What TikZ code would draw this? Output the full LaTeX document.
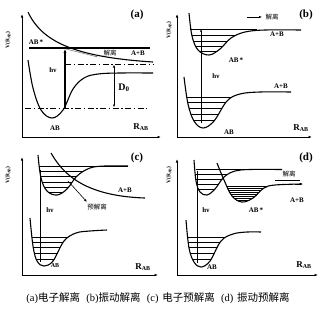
\documentclass[tikz,border=0pt]{standalone}
\usepackage{fontspec}
\setmainfont{Liberation Serif}
\newfontfamily\cjk{Noto Sans CJK SC}
\usetikzlibrary{arrows.meta}

\begin{document}
\begin{tikzpicture}[x=1pt,y=-1pt,
    axis/.style={line width=0.8pt,-{Latex[length=3.5pt,width=2.6pt]}},
    curve/.style={line width=1.1pt},
    level/.style={line width=0.5pt},
    lbl/.style={font=\bfseries\fontsize{7}{8}\selectfont,inner sep=0pt},
    tag/.style={font=\bfseries\fontsize{11}{12}\selectfont,inner sep=0pt},
    vlab/.style={font=\bfseries\fontsize{5.5}{6}\selectfont,rotate=90,inner sep=0pt},
    rlab/.style={font=\bfseries\fontsize{9}{10}\selectfont,inner sep=0pt},
    zh/.style={font=\cjk\fontsize{6.5}{7}\selectfont,inner sep=0pt},
    dashdot/.style={line width=1pt,dash pattern=on 6pt off 2.5pt on 1.5pt off 2.5pt}]

\useasboundingbox (0,0) rectangle (328,314);

% ---------------- (a) electronic dissociation
\draw[axis] (22,137) -- (22,14);
\draw[axis] (22,137) -- (161,137);
\node[vlab] (va) at (8,40) {V(R$_{\mathbf{AB}}$)};
\node[rlab] (ra) at (141,127) {R$_{\mathbf{AB}}$};
\node[tag] (ta) at (137,15) {(a)};

\draw[curve] (28,12) .. controls (42,42) and (75,57) .. (153,62);
\draw[curve] plot[smooth,tension=0.6] coordinates
    {(28,60) (33,88) (41,110) (52,118) (63,110) (73,89) (84,78) (98,74) (120,73) (153,73)};
\draw[line width=1.6pt] (29,48) -- (150,48);
\draw[dashdot] (65,64) -- (153,64);
\draw[dashdot] (25,108) -- (147,108);
\draw[line width=1.3pt,-{Latex[length=4pt,width=3pt]}] (65,108) -- (65,48.8);
\draw[gray,line width=0.6pt,-{Latex[length=2.5pt]}] (66,49) -- (98,57);
\draw[line width=0.7pt,{Latex[length=3pt]}-{Latex[length=3pt]}] (114,64.5) -- (114,107.5);

\node[lbl] (abxa) at (36,42) {AB\,*};
\node[zh] (dsa) at (110,53) {解离};
\node[lbl] (aba) at (138,53) {A+B};
\node[lbl] (hva) at (53,70) {hν};
\node[font=\bfseries\fontsize{10}{11}\selectfont,inner sep=0pt] (da) at (124,88) {D$_{\mathbf{0}}$};
\node[lbl] (aa) at (55,128) {AB};

% ---------------- (b) vibrational dissociation
\draw[axis] (177,137) -- (177,14);
\draw[axis] (177,137) -- (312,137);
\node[vlab] (vb) at (169,30) {V(R$_{\mathbf{AB}}$)};
\node[rlab] (rb) at (301,128) {R$_{\mathbf{AB}}$};
\node[tag] (tb) at (306,15) {(b)};

\path[save path=\wellbu] plot[smooth,tension=0.6] coordinates
    {(189,13) (192,36) (198,50) (209,55) (220,49) (231,38) (245,32) (265,30) (301,30)};
\draw[curve,use path=\wellbu];
\begin{scope}
  \clip[use path=\wellbu];
  \foreach \y in {35,41,46,51}
    \draw[level] (180,\y) -- (300,\y);
\end{scope}
\draw[level] (190,29.5) -- (257,29.5);

\path[save path=\wellbl] plot[smooth,tension=0.6] coordinates
    {(184,77) (188,104) (194,121) (203,128) (214,121) (227,101) (240,94) (260,92) (291,92)};
\draw[curve,use path=\wellbl];
\begin{scope}
  \clip[use path=\wellbl];
  \foreach \y in {97,102,108,114,120}
    \draw[level] (180,\y) -- (300,\y);
\end{scope}
\draw[line width=0.6pt,-{Latex[length=2.5pt,width=2pt]}] (201,123) -- (201,29);
\draw[line width=0.6pt,-{Latex[length=3pt,width=2.4pt]}] (247,17) -- (262,17);

\node[zh] (dsb) at (272,17) {解离};
\node[lbl] (abb1) at (277,34) {A+B};
\node[lbl] (abxb) at (236,60) {AB\,*};
\node[lbl] (hvb) at (216,76) {hν};
\node[lbl] (abb2) at (281,86) {A+B};
\node[lbl] (ab) at (229,132) {AB};

% ---------------- (c) electronic predissociation
\draw[axis] (22,275) -- (22,157);
\draw[axis] (22,275) -- (158,275);
\node[vlab] (vc) at (8,175) {V(R$_{\mathbf{AB}}$)};
\node[rlab] (rc) at (143,267) {R$_{\mathbf{AB}}$};
\node[tag] (tc) at (137,158) {(c)};

\path[save path=\wellcu] plot[smooth,tension=0.6] coordinates
    {(38,155) (41,178) (47,191) (57,195) (67,189) (77,176) (90,168) (105,166) (128,166)};
\draw[curve,use path=\wellcu];
\begin{scope}
  \clip[use path=\wellcu];
  \foreach \y in {171,176,182,187,192}
    \draw[level] (30,\y) -- (130,\y);
\end{scope}
\draw[level] (39,166) -- (128,166);
\draw[curve] (51,153) .. controls (62,172) and (82,196) .. (145,198);
\draw[line width=0.6pt,-{Latex[length=3pt,width=2.4pt]}] (68,181) -- (87,202);

\path[save path=\wellcl] plot[smooth,tension=0.6] coordinates
    {(30,218) (33,246) (37,261) (44,266) (53,261) (64,241) (76,233) (90,231) (107,230)};
\draw[curve,use path=\wellcl];
\begin{scope}
  \clip[use path=\wellcl];
  \foreach \y in {237,242,247,253,259}
    \draw[level] (25,\y) -- (110,\y);
\end{scope}
\draw[line width=0.6pt] (40,262) -- (40,170);

\node[zh] (dsc) at (97,207) {预解离};
\node[lbl] (abc) at (125,190) {A+B};
\node[lbl] (hvc) at (50,210) {hν};
\node[font=\bfseries\fontsize{6}{7}\selectfont,inner sep=0pt] (ac) at (55,266) {AB};

% ---------------- (d) vibrational predissociation
\draw[axis] (177,275) -- (177,159);
\draw[axis] (177,275) -- (318,275);
\node[vlab] (vd) at (169,175) {V(R$_{\mathbf{AB}}$)};
\node[rlab] (rd) at (304,265) {R$_{\mathbf{AB}}$};
\node[tag] (td) at (306,158) {(d)};

\path[save path=\welldu] plot[smooth,tension=0.6] coordinates
    {(194,160) (196,181) (200,192) (207,195) (215,189) (224,177) (235,171) (250,169.5) (282,169.5)};
\draw[curve,use path=\welldu];
\begin{scope}
  \clip[use path=\welldu];
  \foreach \y in {174,179,184,189}
    \draw[level] (185,\y) -- (260,\y);
\end{scope}
\draw[level] (196,169) -- (282,169);

\path[save path=\welldx] plot[smooth,tension=0.6] coordinates
    {(217,163) (224,180) (232,196) (242,202) (253,198) (264,188) (275,185) (301,184)};
\draw[curve,use path=\welldx];
\begin{scope}
  \clip[use path=\welldx];
  \foreach \y in {186,188,...,203}
    \draw[level] (215,\y) -- (275,\y);
\end{scope}
\draw[line width=0.7pt,-{Latex[length=3pt,width=2.6pt]}] (295,184) -- (303,184);
\draw[level] (275,180.5) -- (300,180.5);

\path[save path=\welldl] plot[smooth,tension=0.6] coordinates
    {(186,220) (189,248) (194,262) (201,267) (210,261) (221,241) (233,234) (247,232) (261,232)};
\draw[curve,use path=\welldl];
\begin{scope}
  \clip[use path=\welldl];
  \foreach \y in {237,242,247,253,259}
    \draw[level] (180,\y) -- (265,\y);
\end{scope}
\draw[line width=0.6pt] (197,263) -- (197,171);

\node[zh] (dsd) at (289,174) {解离};
\node[lbl] (abd) at (297,200) {A+B};
\node[lbl] (abxd) at (256,210) {AB\,*};
\node[lbl] (hvd) at (206,210) {hν};
\node[lbl] (ad) at (212,267) {AB};

% ---------------- caption
\node[inner sep=0pt,font=\fontsize{10.5}{12}\selectfont] (cap) at (158,298)
  {(a){\cjk 电子解离}\hspace{0.6em}(b){\cjk 振动解离}\hspace{0.6em}(c)\hspace{0.35em}{\cjk 电子预解离}\hspace{0.6em}(d)\hspace{0.35em}{\cjk 振动预解离}};

\end{tikzpicture}
\end{document}
